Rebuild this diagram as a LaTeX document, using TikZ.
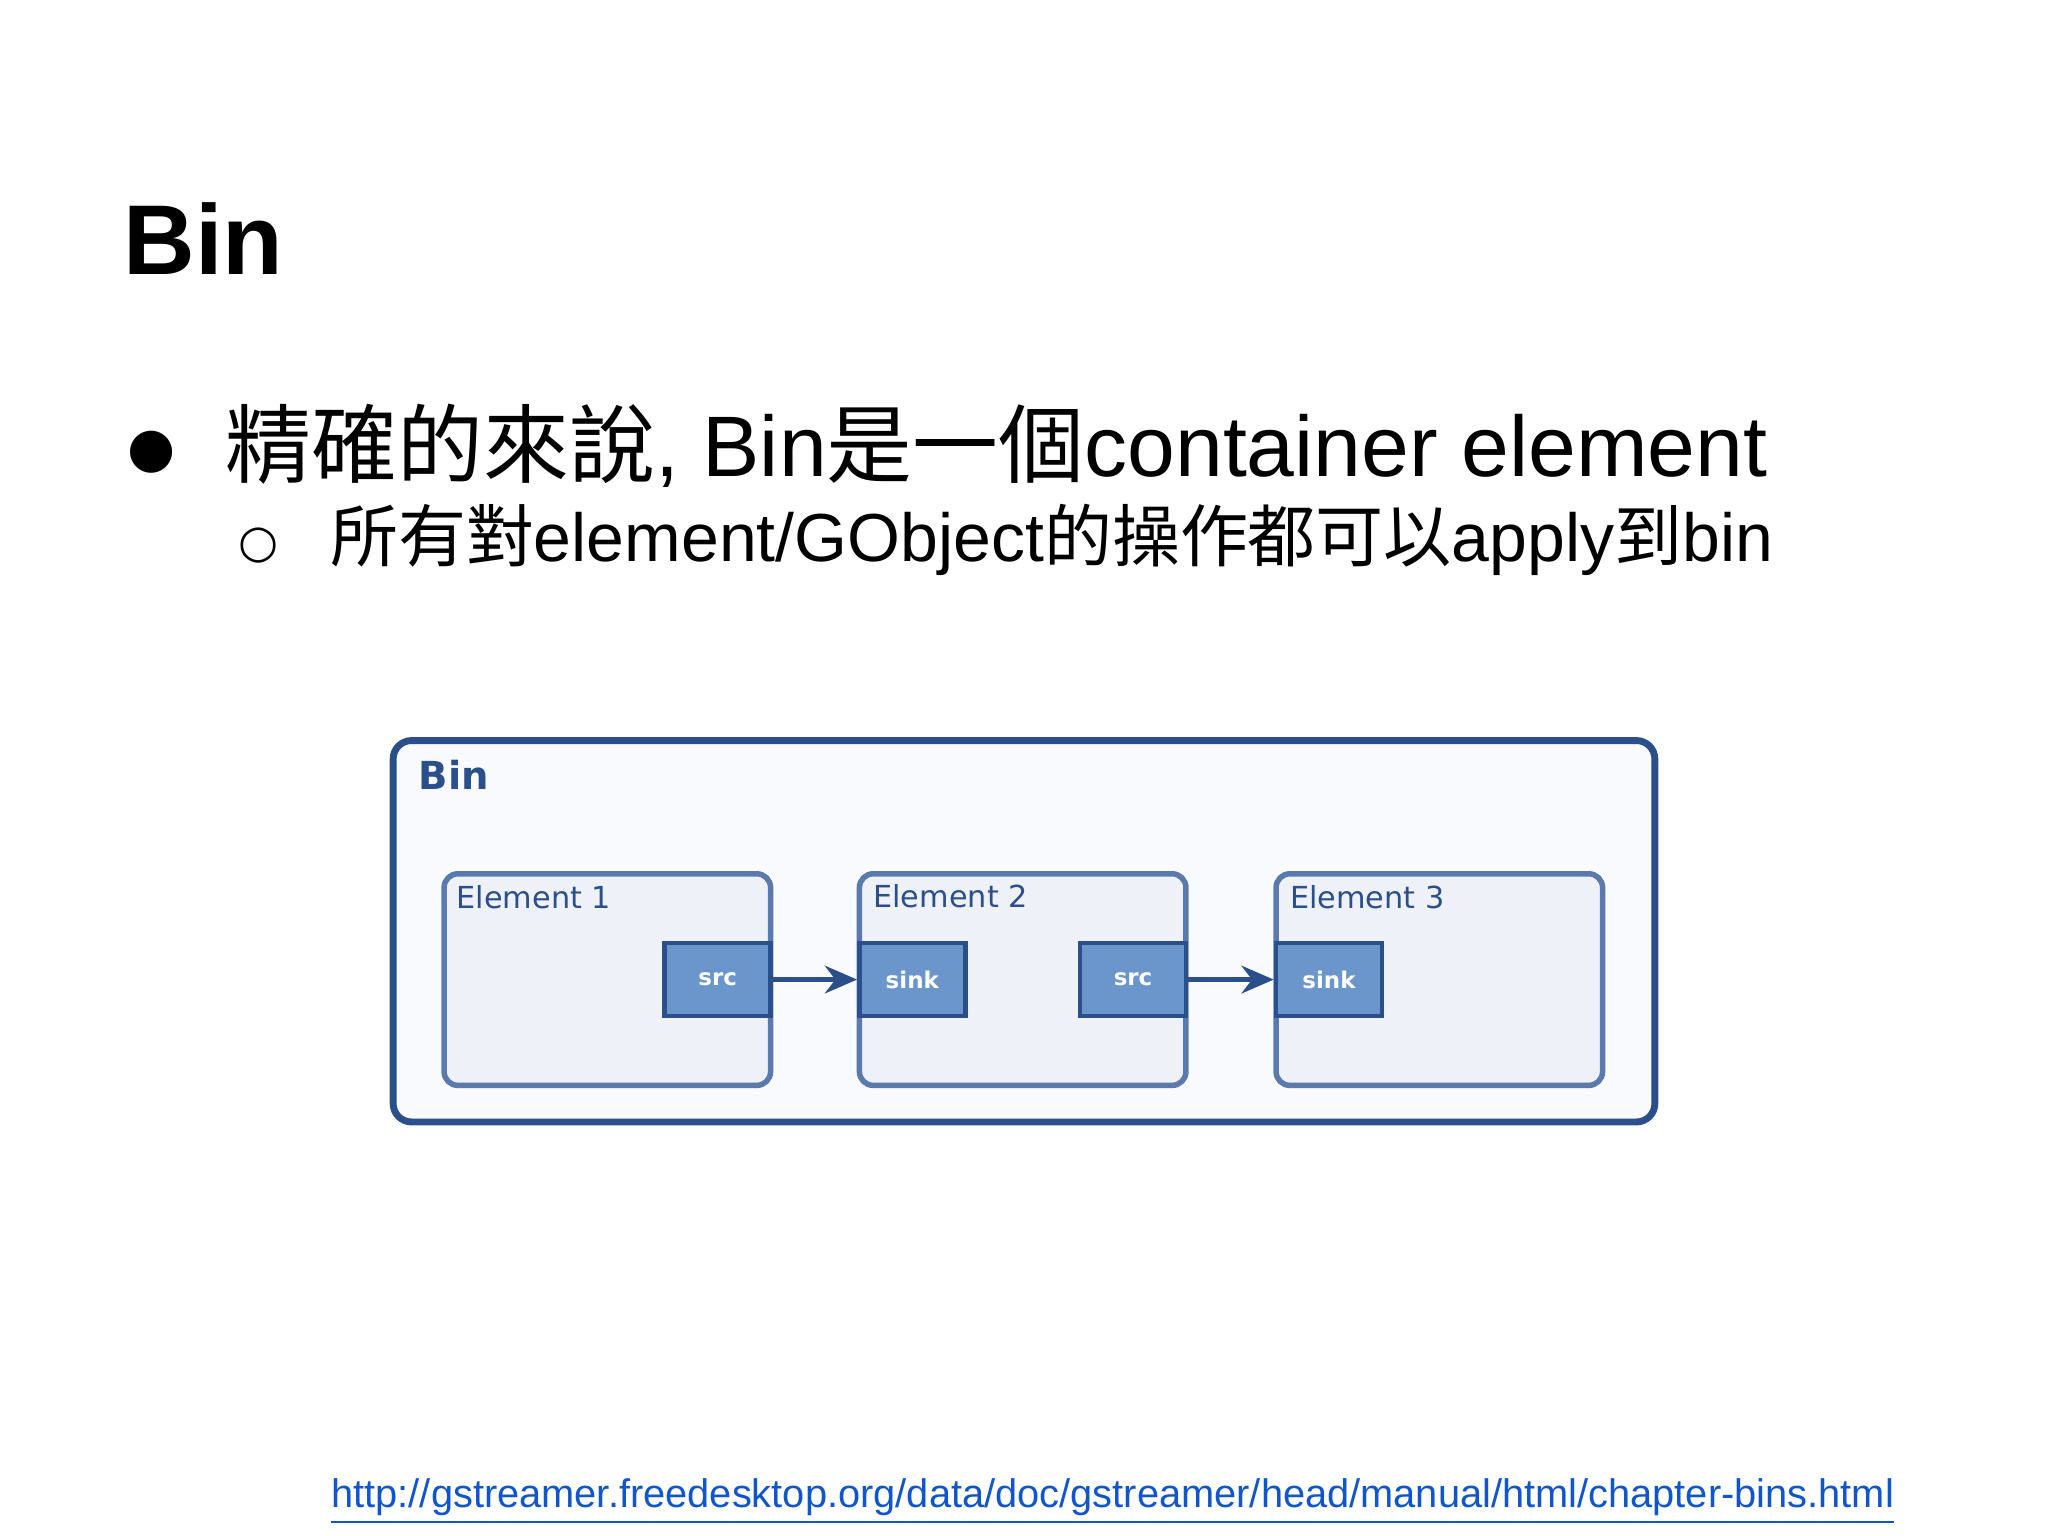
\documentclass[tikz,border=0pt]{standalone}
\usepackage{fontspec}
\setmainfont{Liberation Sans}
\newfontfamily\cjk{Noto Sans CJK TC}
\newfontfamily\dv{DejaVu Sans}
\usetikzlibrary{arrows.meta}
\definecolor{dk}{HTML}{2A4F8A}
\definecolor{mid}{HTML}{5A7AAE}
\definecolor{padf}{HTML}{6B96CC}
\definecolor{elf}{HTML}{EEF1F8}
\definecolor{binf}{HTML}{F9FAFD}
\definecolor{lnk}{HTML}{1155CC}
\begin{document}
\begin{tikzpicture}[x=0.01cm,y=-0.01cm,
  elem/.style={draw=mid,fill=elf,line width=1.2pt,rounded corners=3pt},
  pad/.style={draw=dk,fill=padf,line width=1pt,minimum width=0.81cm,minimum height=0.56cm,inner sep=0pt,text=white,font=\dv\bfseries\fontsize{5}{6}\selectfont},
  elab/.style={anchor=west,text=dk,font=\dv\fontsize{6.6}{8}\selectfont,inner sep=0pt},
  flow/.style={-{Stealth[length=7pt,width=6pt]},draw=dk,line width=1.2pt}]
\useasboundingbox (0,0) rectangle (1568,1176);
\node[anchor=base west,inner sep=0pt,font=\bfseries\fontsize{21.6}{26}\selectfont] (title) at (94,210) {Bin};
\node[anchor=base west,inner sep=0pt,font=\dv\fontsize{12}{14}\selectfont] (b1) at (97,357) {●};
\node[anchor=base west,inner sep=0pt,font=\fontsize{18.7}{22}\selectfont] (t1) at (172,365) {{\cjk 精確的來說}, Bin{\cjk 是一個}container element};
\node[anchor=base west,inner sep=0pt,font=\dv\fontsize{10}{12}\selectfont] (b2) at (182,427) {○};
\node[anchor=base west,inner sep=0pt,font=\fontsize{14.8}{17}\selectfont] (t2) at (252,430) {{\cjk 所有對}element/GObject{\cjk 的操作都可以}apply{\cjk 到}bin};
\draw[draw=dk,fill=binf,line width=1.5pt,rounded corners=4pt] (301,567) rectangle (1267,859);
\node[anchor=west,inner sep=0pt,text=dk,font=\dv\bfseries\fontsize{8.4}{10}\selectfont] (binl) at (320,593) {Bin};
\draw[elem] (340,669) rectangle (590,831);
\draw[elem] (658,669) rectangle (908,831);
\draw[elem] (977,669) rectangle (1227,831);
\node[elab] (e1) at (349,687) {Element 1};
\node[elab] (e2) at (668,686) {Element 2};
\node[elab] (e3) at (987,687) {Element 3};
\node[pad] (s1) at (549.5,750) {src};
\node[pad] (k2) at (698.5,750) {sink};
\node[pad] (s2) at (867.5,750) {src};
\node[pad] (k3) at (1017.5,750) {sink};
\draw[flow] (s1.east) -- (k2.west);
\draw[flow] (s2.east) -- (k3.west);
\node[anchor=base west,inner sep=0pt,text=lnk,font=\fontsize{8.67}{10}\selectfont] (url) at (253,1154) {\underline{http://gstreamer.freedesktop.org/data/doc/gstreamer/head/manual/html/chapter-bins.html}};
\end{tikzpicture}
\end{document}
